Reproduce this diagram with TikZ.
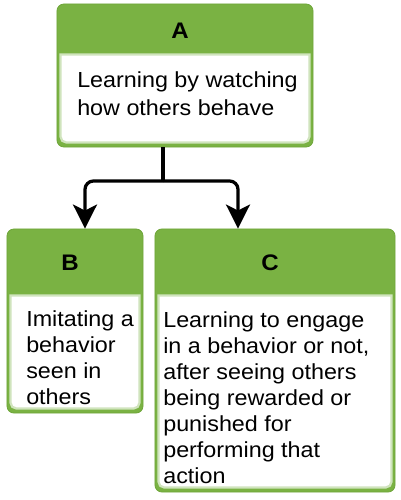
\documentclass[tikz,border=0pt]{standalone}
\usepackage{fontspec}
\setmainfont[FakeStretch=1.07]{Liberation Sans}
\usetikzlibrary{calc,arrows.meta,positioning}
\definecolor{leaf}{HTML}{7AB243}
\definecolor{leafrim}{HTML}{6FA63A}
\tikzset{
  card/.style={draw=leafrim,line width=0.6pt,fill=leaf,rounded corners=5pt,inner sep=0pt},
  pane/.style={fill=white,draw=leaf!35,line width=1.6pt},
  tag/.style={font=\fontsize{16}{18}\selectfont\bfseries,inner sep=0pt},
  txt/.style={font=\fontsize{15.5}{18.5}\selectfont,align=left,inner sep=0pt,anchor=north west},
  ar/.style={-{Stealth[length=6mm,width=6mm,inset=1.5mm]},line width=2.3pt,rounded corners=6pt}
}

\begin{document}
\begin{tikzpicture}[x=0.025cm,y=-0.025cm]
\useasboundingbox (0,0) rectangle (401,500);
% cards
\node[card,minimum width=6.4cm,minimum height=3.575cm] (a) at (185,75.5) {};
\node[card,minimum width=3.4cm,minimum height=4.6cm] (b) at (75,321) {};
\node[card,minimum width=6cm,minimum height=6.575cm] (c) at (275,360.5) {};
\foreach \n/\h in {a/51,b/67,c/67}{
  \fill[pane] ($(\n.north west)+(4,\h)$) [rounded corners=4pt] -- ($(\n.south west)+(4,-5)$)
    -- ($(\n.south east)+(-4,-5)$) [sharp corners] -- ($(\n.north east)+(-4,\h)$) -- cycle;
}
% headers
\node[tag] (ta) at (180,31) {A};
\node[tag] (tb) at (70,262.5) {B};
\node[tag] (tc) at (270,262.5) {C};
% texts
\node[txt,font=\fontsize{15.5}{19.9}\selectfont] (xa) at (77,71) {Learning by watching\\how others behave};
\node[txt] (xb) at (26,310) {Imitating a\\behavior\\seen in\\others};
\node[txt] (xc) at (163,311) {Learning to engage\\in a behavior or not,\\after seeing others\\being rewarded or\\punished for\\performing that\\action};
% arrows
\coordinate (fork) at (163,181);
\draw[line width=2.3pt] (a.south -| fork) -- (fork);
\draw[ar] (fork) -| ($(b.north)+(10,0)$);
\draw[ar] (fork) -| ($(c.north)+(-37,0)$);
\end{tikzpicture}
\end{document}
